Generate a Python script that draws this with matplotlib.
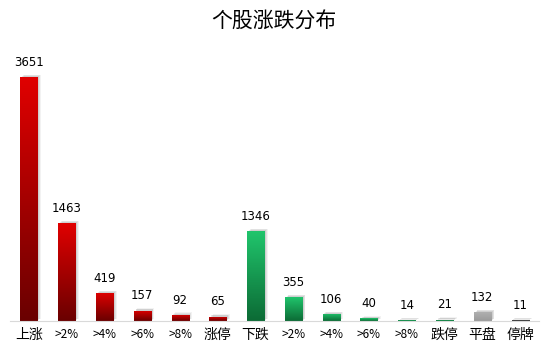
import numpy as np
import matplotlib.pyplot as plt
import matplotlib.transforms as mtransforms
from matplotlib.colors import LinearSegmentedColormap
from matplotlib.patches import Rectangle

plt.rcParams['font.family'] = ['Noto Sans CJK SC', 'DejaVu Sans']

categories = ['上涨', '>2%', '>4%', '>6%', '>8%', '涨停',
              '下跌', '>2%', '>4%', '>6%', '>8%', '跌停', '平盘', '停牌']
values = [3651, 1463, 419, 157, 92, 65, 1346, 355, 106, 40, 14, 21, 132, 11]
groups = ['up'] * 6 + ['down'] * 6 + ['flat', 'halt']

grad = {
    'up': ('#e00000', '#6a0000'),
    'down': ('#20c46c', '#0c6b35'),
    'flat': ('#b0b0b0', '#9a9a9a'),
    'halt': ('#505050', '#303030'),
}

fig = plt.figure(figsize=(5.48, 3.51), dpi=100)
ax = fig.add_axes([10 / 548, 30 / 351, 529 / 548, 261 / 351])

w = 0.45
for i, (v, g) in enumerate(zip(values, groups)):
    x0 = i - w / 2
    # soft shadow up and to the right
    for k, a in zip([4, 3, 2], [0.10, 0.14, 0.18]):
        tr = mtransforms.offset_copy(ax.transData, fig=fig, x=k * 0.9, y=k * 0.6, units='dots')
        ax.add_patch(Rectangle((x0, 0), w, v, transform=tr, color='#808080',
                               alpha=a, lw=0, zorder=1))
    top, bot = grad[g]
    cmap = LinearSegmentedColormap.from_list('g', [bot, top])
    arr = np.linspace(0, 1, 100).reshape(-1, 1)
    im = ax.imshow(arr, cmap=cmap, origin='lower', aspect='auto',
                   extent=(x0, x0 + w, 0, v), zorder=2)
    clip = Rectangle((x0, 0), w, v, transform=ax.transData)
    im.set_clip_path(clip)
    ax.annotate(str(v), (i, v), xytext=(0, 6), textcoords='offset points',
                ha='center', va='bottom', fontsize=8.5, color='#000000',
                family=['DejaVu Sans'])

ax.set_xlim(-0.5, len(values) - 0.5)
ax.set_ylim(0, 3905)

ax.set_xticks(range(len(values)))
ax.set_xticklabels(categories)
for lab in ax.get_xticklabels():
    if '%' in lab.get_text():
        lab.set_fontsize(8.5)
    else:
        lab.set_fontsize(10)
ax.tick_params(axis='x', length=0, pad=5)
ax.set_yticks([])
for s in ['top', 'right', 'left']:
    ax.spines[s].set_visible(False)
ax.spines['bottom'].set_color('#d9d9d9')

fig.text(0.5, 1 - 22 / 351, '个股涨跌分布', ha='center', va='center', fontsize=15)

fig.savefig('out.png', dpi=100)
